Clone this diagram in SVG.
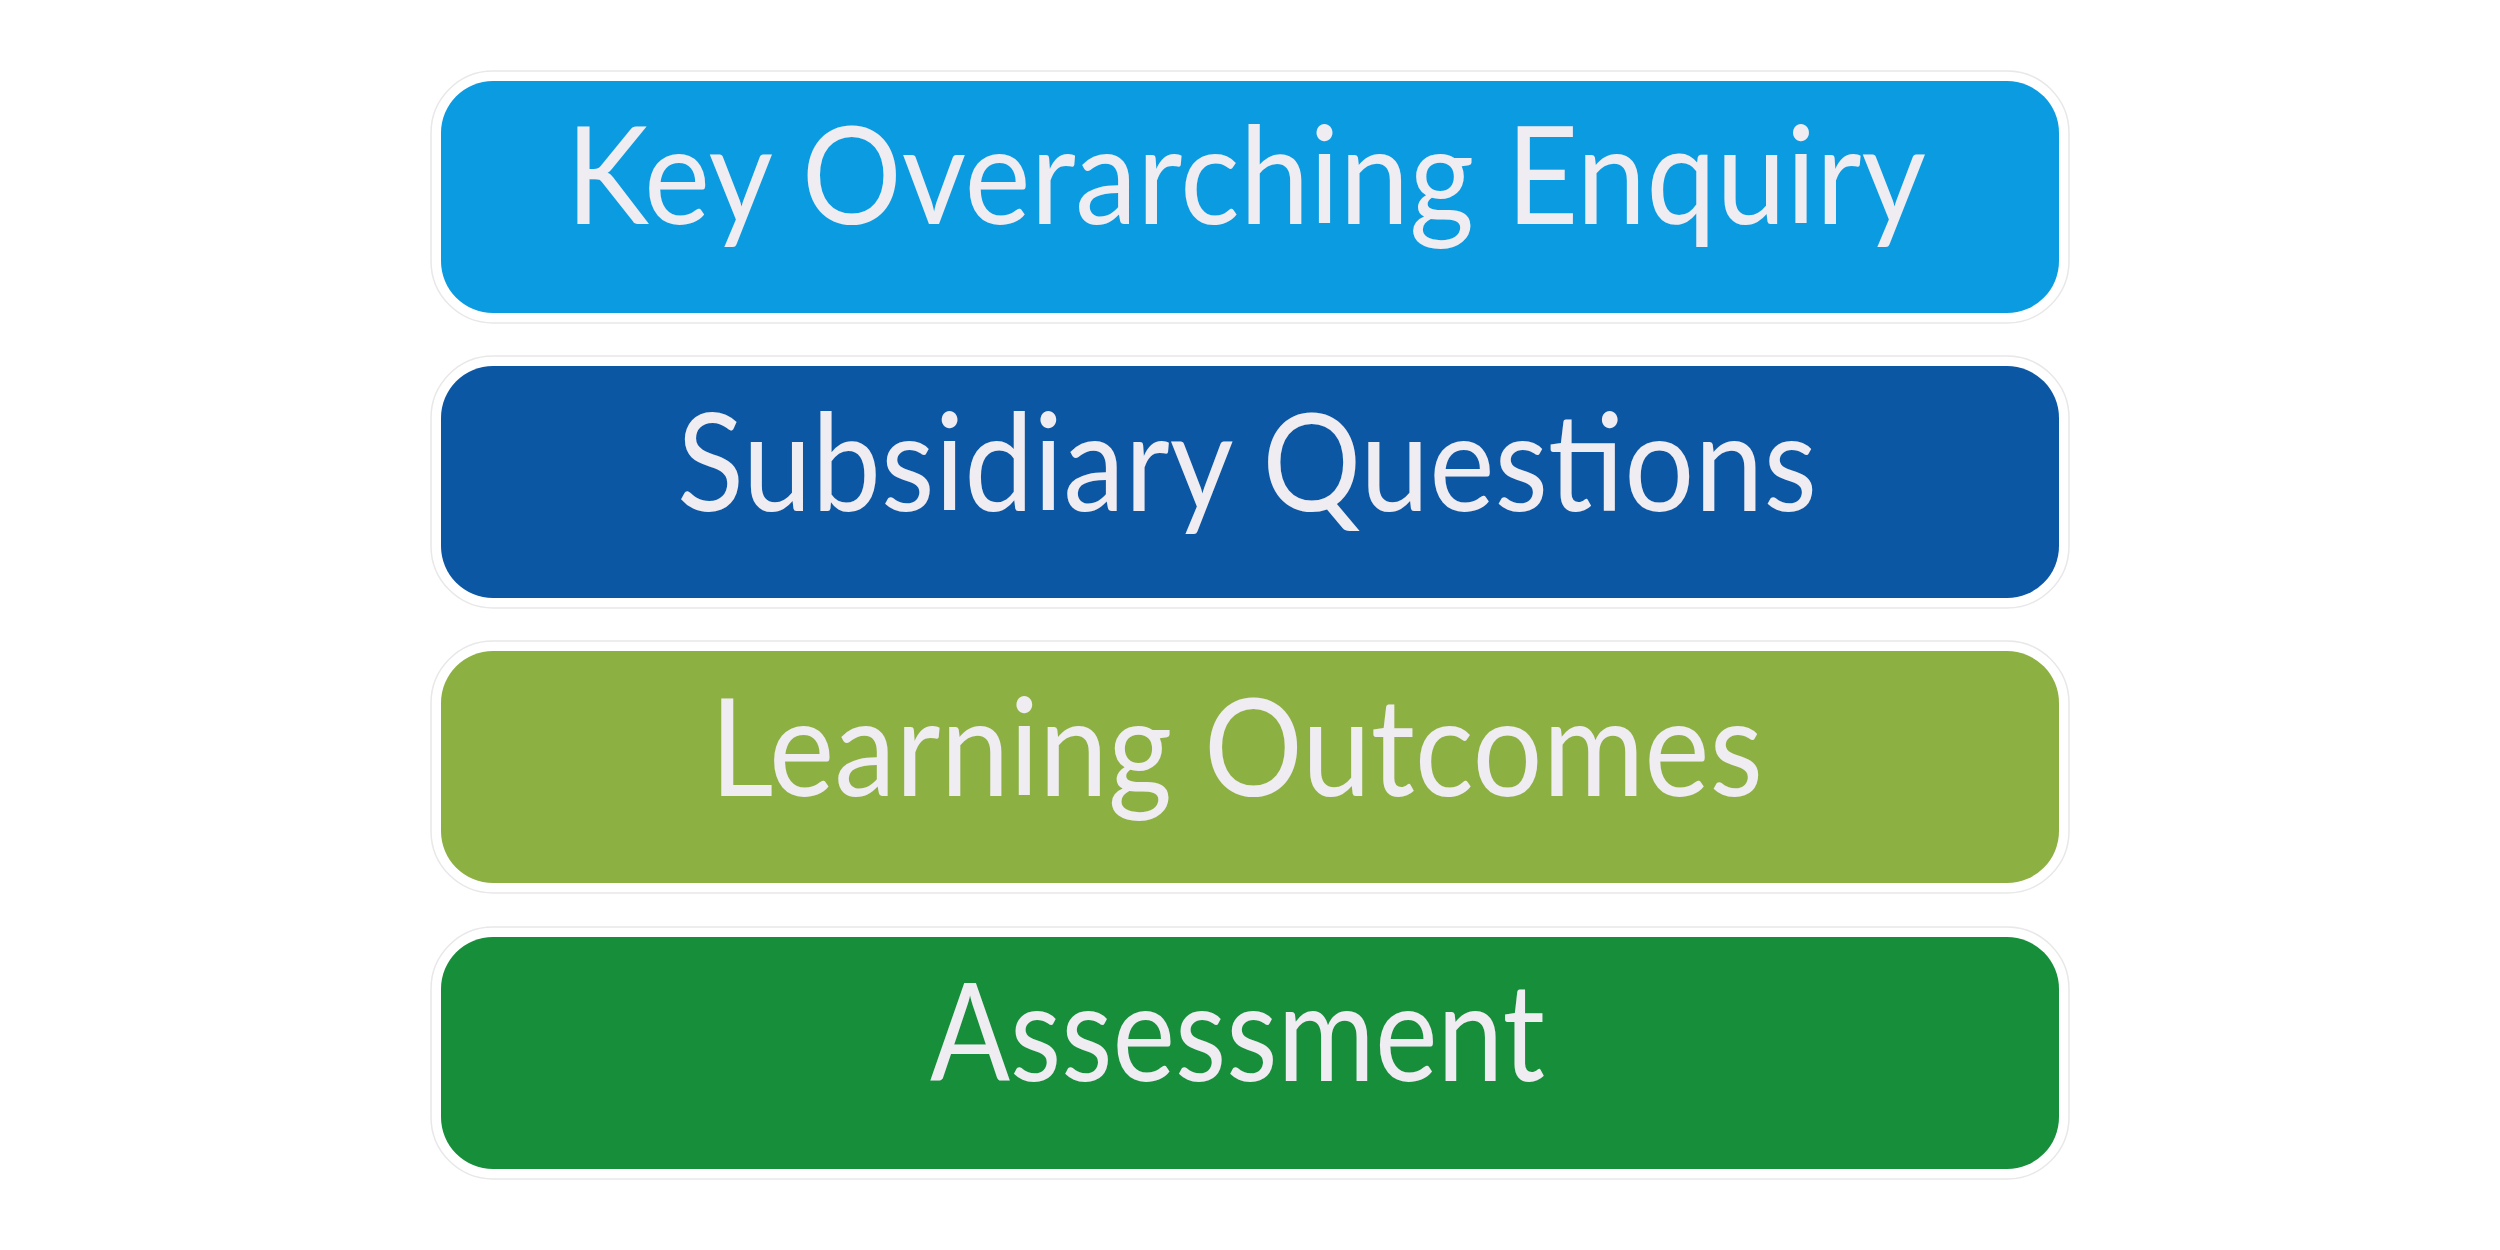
<svg xmlns="http://www.w3.org/2000/svg" width="2500" height="1250" viewBox="0 0 2500 1250">
<style>
.outer{fill:#ffffff;stroke:#e8e8e8;stroke-width:1.5}
.lbl{font-family:Lato,"Open Sans","Liberation Sans",sans-serif;font-weight:400;font-size:135px;fill:#EFECF2;text-anchor:start}
</style>
<rect width="2500" height="1250" fill="#ffffff"/>
<g id="node-key">
<rect class="outer" x="431" y="71" width="1638" height="252" rx="62" ry="62"/>
<rect x="441" y="81" width="1618" height="232" rx="52" ry="52" fill="#0A9BE1"/>
<text class="lbl" x="566" y="224" textLength="1360" lengthAdjust="spacingAndGlyphs">Key Overarching Enquiry</text>
</g>
<g id="node-subsidiary">
<rect class="outer" x="431" y="356" width="1638" height="252" rx="62" ry="62"/>
<rect x="441" y="366" width="1618" height="232" rx="52" ry="52" fill="#0B57A4"/>
<text class="lbl" x="677" y="511" textLength="1140" lengthAdjust="spacingAndGlyphs">Subsidiary Questions</text>
</g>
<g id="node-learning">
<rect class="outer" x="431" y="641" width="1638" height="252" rx="62" ry="62"/>
<rect x="441" y="651" width="1618" height="232" rx="52" ry="52" fill="#8DB043"/>
<text class="lbl" x="710" y="796" textLength="1053" lengthAdjust="spacingAndGlyphs">Learning Outcomes</text>
</g>
<g id="node-assessment">
<rect class="outer" x="431" y="927" width="1638" height="252" rx="62" ry="62"/>
<rect x="441" y="937" width="1618" height="232" rx="52" ry="52" fill="#168E3A"/>
<text class="lbl" x="930" y="1081" textLength="615" lengthAdjust="spacingAndGlyphs">Assessment</text>
</g>
<g id="connectors"/>
</svg>
